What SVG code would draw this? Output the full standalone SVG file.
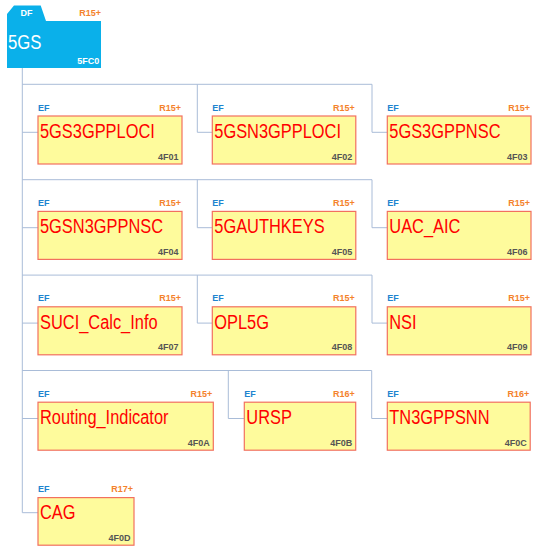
<svg xmlns="http://www.w3.org/2000/svg" width="541" height="547" viewBox="0 0 541 547">
<style>
.bg{fill:#ffffff}
.box{fill:#fefb9c;stroke:#f2705f;stroke-width:1.2}
.df{fill:#0ab0ea}
.ln{fill:none;stroke:#a9bcd8;stroke-width:1}
.ef{font-family:"Liberation Sans",Arial,sans-serif;font-size:9px;font-weight:bold;fill:#2084cf}
.rel{font-family:"Liberation Sans",Arial,sans-serif;font-size:9px;font-weight:bold;fill:#f4822c;text-anchor:end}
.id{font-family:"Liberation Sans",Arial,sans-serif;font-size:9px;font-weight:bold;fill:#555555;text-anchor:end}
.nm{font-family:"Liberation Sans",Arial,sans-serif;font-size:20px;fill:#ff0000}
.w{fill:#ffffff}
</style>
<rect class="bg" x="0" y="0" width="541" height="547"/>
<g id="connectors">
<path class="ln" d="M22.3,68 V512.7 H38"/>
<path class="ln" d="M22.3,84.3 H372 M22.3,132.3 H38 M197.3,84.3 V132.3 H212.3 M372,84.3 V132.3 H387.3"/>
<path class="ln" d="M22.3,179.7 H372 M22.3,227.7 H38 M197.3,179.7 V227.7 H212.3 M372,179.7 V227.7 H387.3"/>
<path class="ln" d="M22.3,275.1 H372 M22.3,323.1 H38 M197.3,275.1 V323.1 H212.3 M372,275.1 V323.1 H387.3"/>
<path class="ln" d="M22.3,370.5 H371.7 M22.3,418.5 H38 M228.3,370.5 V418.5 H244.3 M371.7,370.5 V418.5 H387.3"/>
</g>
<g id="n5FC0">
<path class="df" d="M7,68 V14 L14,5.5 H40.7 L46,21 H101 V68 Z"/>
<text class="ef w" x="20.5" y="15.7">DF</text>
<text class="rel" x="101" y="15.7">R15+</text>
<text class="nm w" x="8" y="49.3" font-size="18" textLength="33.5" lengthAdjust="spacingAndGlyphs">5GS</text>
<text class="id w" x="99.3" y="64">5FC0</text>
</g>
<g id="n4F01">
<rect class="box" x="38" y="116" width="144" height="48"/>
<text class="ef" x="38" y="110.5">EF</text>
<text class="rel" x="181" y="110.5">R15+</text>
<text class="nm" x="40" y="137.7" textLength="114.8" lengthAdjust="spacingAndGlyphs">5GS3GPPLOCI</text>
<text class="id" x="178.5" y="159.5">4F01</text>
</g>
<g id="n4F02">
<rect class="box" x="212.3" y="116" width="143.5" height="48"/>
<text class="ef" x="212.3" y="110.5">EF</text>
<text class="rel" x="354.8" y="110.5">R15+</text>
<text class="nm" x="214.3" y="137.7" textLength="126.7" lengthAdjust="spacingAndGlyphs">5GSN3GPPLOCI</text>
<text class="id" x="352.3" y="159.5">4F02</text>
</g>
<g id="n4F03">
<rect class="box" x="387.3" y="116" width="143.7" height="48"/>
<text class="ef" x="387.3" y="110.5">EF</text>
<text class="rel" x="530" y="110.5">R15+</text>
<text class="nm" x="389.3" y="137.7" textLength="111.2" lengthAdjust="spacingAndGlyphs">5GS3GPPNSC</text>
<text class="id" x="527.5" y="159.5">4F03</text>
</g>
<g id="n4F04">
<rect class="box" x="38" y="211.4" width="144" height="48"/>
<text class="ef" x="38" y="205.9">EF</text>
<text class="rel" x="181" y="205.9">R15+</text>
<text class="nm" x="40" y="233.1" textLength="123" lengthAdjust="spacingAndGlyphs">5GSN3GPPNSC</text>
<text class="id" x="178.5" y="254.9">4F04</text>
</g>
<g id="n4F05">
<rect class="box" x="212.3" y="211.4" width="143.5" height="48"/>
<text class="ef" x="212.3" y="205.9">EF</text>
<text class="rel" x="354.8" y="205.9">R15+</text>
<text class="nm" x="214.3" y="233.1" textLength="110.3" lengthAdjust="spacingAndGlyphs">5GAUTHKEYS</text>
<text class="id" x="352.3" y="254.9">4F05</text>
</g>
<g id="n4F06">
<rect class="box" x="387.3" y="211.4" width="143.7" height="48"/>
<text class="ef" x="387.3" y="205.9">EF</text>
<text class="rel" x="530" y="205.9">R15+</text>
<text class="nm" x="389.3" y="233.1" textLength="71.1" lengthAdjust="spacingAndGlyphs">UAC_AIC</text>
<text class="id" x="527.5" y="254.9">4F06</text>
</g>
<g id="n4F07">
<rect class="box" x="38" y="306.8" width="144" height="48"/>
<text class="ef" x="38" y="301.3">EF</text>
<text class="rel" x="181" y="301.3">R15+</text>
<text class="nm" x="40" y="328.5" textLength="117.6" lengthAdjust="spacingAndGlyphs">SUCI_Calc_Info</text>
<text class="id" x="178.5" y="350.3">4F07</text>
</g>
<g id="n4F08">
<rect class="box" x="212.3" y="306.8" width="143.5" height="48"/>
<text class="ef" x="212.3" y="301.3">EF</text>
<text class="rel" x="354.8" y="301.3">R15+</text>
<text class="nm" x="214.3" y="328.5" textLength="54.7" lengthAdjust="spacingAndGlyphs">OPL5G</text>
<text class="id" x="352.3" y="350.3">4F08</text>
</g>
<g id="n4F09">
<rect class="box" x="387.3" y="306.8" width="143.7" height="48"/>
<text class="ef" x="387.3" y="301.3">EF</text>
<text class="rel" x="530" y="301.3">R15+</text>
<text class="nm" x="389.3" y="328.5" textLength="27.3" lengthAdjust="spacingAndGlyphs">NSI</text>
<text class="id" x="527.5" y="350.3">4F09</text>
</g>
<g id="n4F0A">
<rect class="box" x="38" y="402.2" width="175.3" height="48"/>
<text class="ef" x="38" y="396.7">EF</text>
<text class="rel" x="212.3" y="396.7">R15+</text>
<text class="nm" x="40" y="423.9" textLength="128.5" lengthAdjust="spacingAndGlyphs">Routing_Indicator</text>
<text class="id" x="209.8" y="445.7">4F0A</text>
</g>
<g id="n4F0B">
<rect class="box" x="244.3" y="402.2" width="111.4" height="48"/>
<text class="ef" x="244.3" y="396.7">EF</text>
<text class="rel" x="354.7" y="396.7">R16+</text>
<text class="nm" x="246.3" y="423.9" textLength="45.6" lengthAdjust="spacingAndGlyphs">URSP</text>
<text class="id" x="352.2" y="445.7">4F0B</text>
</g>
<g id="n4F0C">
<rect class="box" x="387.3" y="402.2" width="142.9" height="48"/>
<text class="ef" x="387.3" y="396.7">EF</text>
<text class="rel" x="529.2" y="396.7">R16+</text>
<text class="nm" x="389.3" y="423.9" textLength="100.2" lengthAdjust="spacingAndGlyphs">TN3GPPSNN</text>
<text class="id" x="526.7" y="445.7">4F0C</text>
</g>
<g id="n4F0D">
<rect class="box" x="38" y="497.6" width="96" height="47.6"/>
<text class="ef" x="38" y="492.1">EF</text>
<text class="rel" x="133" y="492.1">R17+</text>
<text class="nm" x="40" y="519.3" textLength="35.5" lengthAdjust="spacingAndGlyphs">CAG</text>
<text class="id" x="130.5" y="541">4F0D</text>
</g>
</svg>
